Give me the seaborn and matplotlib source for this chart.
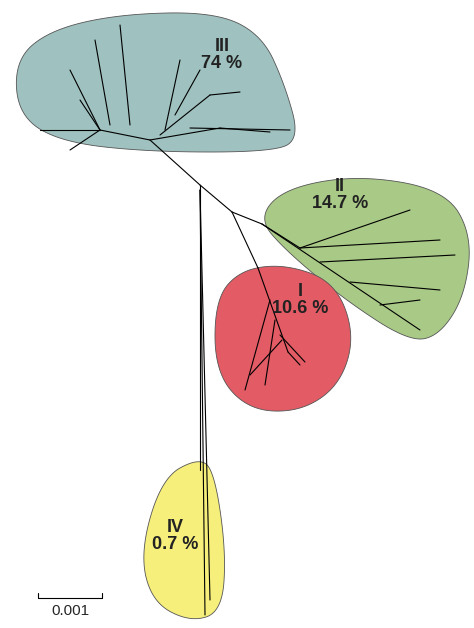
import numpy as np
import matplotlib
matplotlib.use("Agg")
import matplotlib.pyplot as plt
import seaborn as sns
from matplotlib.patches import Polygon

sns.set_theme(style="white")
plt.rcParams['font.family'] = ['Liberation Sans', 'DejaVu Sans']

cluster_names = ["III", "II", "I", "IV"]
cluster_pct = ["74 %", "14.7 %", "10.6 %", "0.7 %"]
cluster_colors = ["#9fc1bf", "#a9c987", "#e35b64", "#f6ef7c"]
label_pos = [(222, 55), (340, 195), (300, 300), (175, 536)]
blobs = [
    [(15, 60), (50, 30), (120, 14), (215, 12), (262, 35), (285, 85), (300, 140), (270, 152), (150, 152), (60, 142), (18, 115)],
    [(258, 218), (285, 188), (360, 175), (445, 190), (472, 235), (465, 295), (440, 335), (410, 342), (345, 300), (285, 250)],
    [(215, 300), (240, 270), (285, 264), (335, 282), (355, 335), (340, 385), (300, 412), (248, 410), (215, 372)],
    [(162, 478), (198, 458), (214, 470), (226, 550), (222, 612), (190, 622), (152, 602), (140, 552)],
]
# tree segments (x0, y0, x1, y1)
branches = [
    (150, 140, 200, 185), (200, 185, 200, 470), (200, 185, 232, 212),
    (232, 212, 262, 224), (262, 224, 420, 330), (300, 248, 440, 240), (300, 248, 410, 210),
    (320, 262, 455, 255), (350, 282, 440, 290), (380, 305, 420, 300), (262, 224, 300, 248),
    (232, 212, 258, 268), (258, 268, 288, 352), (270, 300, 245, 390), (275, 320, 265, 385),
    (280, 335, 305, 362), (282, 340, 250, 375), (288, 352, 300, 365),
    (150, 140, 100, 130), (150, 140, 220, 128), (220, 128, 270, 132), (190, 128, 290, 130),
    (160, 135, 210, 95), (210, 95, 240, 92), (165, 130, 180, 60), (130, 125, 120, 25),
    (110, 125, 95, 40), (100, 130, 70, 70), (100, 130, 40, 130), (100, 130, 70, 150),
    (100, 130, 80, 100), (175, 115, 200, 70), (200, 190, 205, 615), (200, 190, 210, 600),
]
scale_label = "0.001"

fig = plt.figure(figsize=(4.74, 6.28), dpi=100)
ax = fig.add_axes([0, 0, 1, 1])
ax.set_xlim(0, 474); ax.set_ylim(628, 0); ax.axis("off")

def chaikin(pts, n=4):
    p = np.array(pts, float)
    for _ in range(n):
        q = 0.75 * p + 0.25 * np.roll(p, -1, 0)
        r = 0.25 * p + 0.75 * np.roll(p, -1, 0)
        p = np.empty((2 * len(q), 2)); p[0::2] = q; p[1::2] = r
    return p

for b, c in zip(blobs, cluster_colors):
    ax.add_patch(Polygon(chaikin(b), closed=True, fc=c, ec="#555555", lw=0.6))
for x0, y0, x1, y1 in branches:
    ax.plot([x0, x1], [y0, y1], color="black", lw=0.8)
for n, p, (x, y) in zip(cluster_names, cluster_pct, label_pos):
    ax.text(x, y, f"{n}\n{p}", ha="center", va="center", fontsize=13, fontweight="bold", color="#222222", linespacing=1.0)
ax.plot([38, 102], [598, 598], color="black", lw=0.8)
ax.plot([38, 38], [593, 598], color="black", lw=0.8)
ax.plot([102, 102], [593, 598], color="black", lw=0.8)
ax.text(70, 604, scale_label, ha="center", va="top", fontsize=11)
fig.savefig("out.png", dpi=100)
